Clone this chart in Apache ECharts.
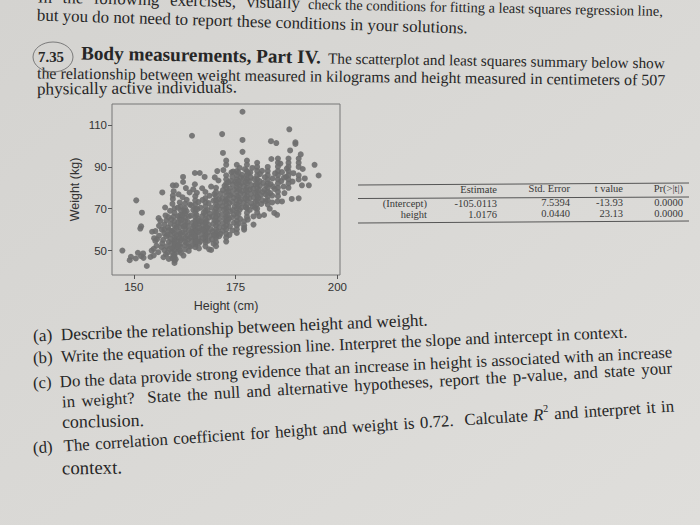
<!DOCTYPE html>
<html><head><meta charset="utf-8">
<script src="https://cdn.jsdelivr.net/npm/echarts@6/dist/echarts.min.js"></script>
<style>html,body{margin:0;padding:0;background:#d9d8d5}#c{width:700px;height:525px}</style>
</head><body><div id="c"></div>
<script>
// Height (cm), Weight (kg) pairs read from the scatterplot
const measurements = [
[147.2,50.0],[149.0,45.4],[149.3,47.0],[150.5,46.2],[151.0,48.9],[151.8,47.3],[152.3,48.6],[150.6,74.0],[152.0,68.1],[151.8,61.6],[151.6,60.5],[152.4,46.5],
[153.2,42.6],[154.1,46.9],[154.4,50.0],[154.9,50.8],[155.3,54.6],[155.7,55.4],[155.3,59.3],[154.9,47.7],[156.0,49.2],[155.6,52.3],[156.2,57.1],[155.0,55.9],[154.5,59.0],[156.1,65.5],[156.5,64.2],[156.2,61.8],
[156.9,60.0],[157.5,60.0],[157.0,77.8],[157.5,58.2],[157.2,55.1],[157.5,50.2],[157.9,48.1],[157.5,62.5],[157.0,53.4],[158.0,56.8],[158.1,52.0],[158.3,57.5],[158.0,64.5],[158.4,61.0],[158.3,49.0],[157.8,66.8],
[159.6,81.2],[160.4,81.2],[159.6,76.3],[159.6,74.7],[159.5,72.3],[160.0,70.1],[160.0,68.0],[159.8,66.2],[160.0,64.0],[160.0,62.1],[160.0,60.0],[160.0,58.2],[160.0,56.1],[160.0,55.0],[160.0,53.9],[160.0,52.1],[160.0,50.2],[160.0,48.1],[160.0,47.0],[160.0,45.2],[160.0,44.1],[159.5,46.3],[159.4,49.2],[159.4,51.0],[159.2,53.3],[159.1,55.6],[159.0,57.8],[159.3,59.4],[160.5,61.2],[160.5,57.3],[160.6,54.5],[160.7,51.6],[160.8,49.4],[160.9,63.5],[160.9,66.4],[160.8,70.5],[159.0,62.7],[158.9,69.0],[159.2,64.9],
[162.1,85.2],[162.1,82.8],[161.3,73.0],[161.5,71.0],[161.6,69.1],[161.4,67.0],[161.3,65.2],[161.5,63.0],[161.3,61.1],[161.2,59.0],[161.4,57.9],[161.2,56.1],[161.5,54.9],[161.3,53.0],[161.4,51.8],[161.3,50.1],[161.6,48.9],[162.6,56.0],[162.6,60.3],[162.6,64.1],[162.6,67.9],[162.6,52.5],[162.6,54.3],[162.6,58.2],[162.6,62.0],[162.6,65.8],[162.6,70.2],[162.6,72.5],[162.6,50.5],[163.0,53.6],[163.2,57.0],[163.5,59.6],[163.3,61.9],[163.4,55.4],[163.2,63.7],[163.5,66.3],[163.0,68.8],[163.6,52.0],[163.8,72.0],[163.0,74.3],[163.5,49.8],[162.2,47.6],[162.0,75.5],
[164.3,104.9],[165.0,87.1],[165.0,81.7],[165.1,76.0],[165.1,74.0],[165.1,72.1],[165.1,70.0],[165.1,68.1],[165.1,66.0],[165.1,64.1],[165.1,62.0],[165.1,60.1],[165.1,58.0],[165.1,57.0],[165.1,56.0],[165.1,55.0],[165.1,53.9],[165.1,52.9],[165.1,51.6],[164.2,54.5],[164.3,57.7],[164.5,60.9],[164.4,63.3],[164.0,66.7],[164.6,69.4],[164.2,71.6],[164.0,52.0],[164.7,59.0],[165.8,55.5],[165.8,58.9],[165.9,62.6],[165.7,65.4],[165.6,69.8],[165.9,73.2],[165.5,77.6],[166.0,53.5],[166.0,51.0],
[166.2,87.1],[167.4,85.2],[167.6,78.0],[167.6,75.1],[167.6,73.0],[167.6,71.1],[167.6,69.0],[167.6,67.1],[167.6,65.0],[167.6,63.1],[167.6,61.0],[167.6,59.1],[167.6,58.0],[167.6,57.0],[167.6,56.1],[167.6,55.0],[167.6,53.9],[167.6,52.0],[168.5,50.6],[166.5,57.6],[166.7,60.2],[166.6,63.8],[166.8,66.5],[166.4,70.5],[166.9,74.2],[166.3,54.4],[166.8,79.8],[168.3,54.7],[168.2,58.6],[168.4,62.3],[168.5,65.9],[168.1,69.3],[168.4,72.7],[168.6,76.2],[168.0,61.0],
[170.2,80.0],[170.2,78.0],[170.2,76.1],[170.2,74.0],[170.2,72.1],[170.2,70.0],[170.2,68.1],[170.2,66.0],[170.2,64.1],[170.2,62.0],[170.2,60.1],[170.2,58.0],[170.2,57.0],[170.2,56.0],[170.2,54.0],[170.2,52.1],[169.0,50.3],[169.2,55.5],[169.4,59.2],[169.5,62.8],[169.3,66.2],[169.1,70.6],[169.6,73.9],[169.8,77.0],[169.0,80.6],[170.8,83.5],[171.0,65.1],[171.0,69.8],[171.0,61.1],[171.0,56.9],[169.9,85.0],[170.5,88.0],
[171.9,96.7],[171.7,105.7],[172.7,93.0],[172.7,91.0],[172.7,86.0],[172.7,84.1],[172.7,82.0],[172.7,80.1],[172.7,78.0],[172.7,76.1],[172.7,74.0],[172.7,72.1],[172.7,70.0],[172.7,68.1],[172.7,66.0],[172.7,64.1],[172.7,62.0],[172.7,60.1],[172.7,58.0],[172.7,56.2],[172.7,54.3],[171.8,59.4],[171.9,63.0],[171.6,67.4],[171.8,71.3],[171.7,75.0],[171.9,78.9],[172.0,88.5],[173.5,57.5],[173.6,61.6],[173.4,65.3],[173.8,68.8],[173.5,72.6],[173.7,76.4],[173.6,79.7],[173.9,83.3],[174.0,87.4],
[175.3,91.0],[175.3,88.0],[175.3,86.0],[175.3,84.1],[175.3,82.0],[175.3,80.1],[175.3,78.0],[175.3,76.1],[175.3,74.0],[175.3,72.1],[175.3,70.0],[175.3,68.1],[175.3,66.0],[175.3,64.1],[175.3,62.0],[175.3,60.2],[175.3,58.4],[174.6,63.3],[174.6,67.2],[174.8,71.0],[174.5,75.2],[174.7,79.2],[174.9,83.0],[174.4,87.8],[176.0,69.5],[176.0,73.5],[176.2,77.3],[176.0,81.2],[176.3,85.0],[176.1,65.2],[176.0,89.5],
[176.7,116.4],[176.7,102.9],[176.7,97.2],[177.8,93.0],[177.8,91.0],[177.8,88.0],[177.8,86.1],[177.8,84.0],[177.8,82.1],[177.8,80.0],[177.8,78.1],[177.8,76.0],[177.8,74.1],[177.8,72.0],[177.8,70.1],[177.8,68.0],[177.8,66.1],[177.1,64.0],[177.1,62.1],[177.1,60.8],[177.1,60.0],[177.0,72.8],[177.2,76.8],[177.0,80.7],[177.1,84.6],[177.3,88.9],[178.4,75.0],[178.5,79.1],[178.3,83.3],[178.6,87.3],[178.5,69.4],
[180.3,92.0],[180.3,90.0],[180.3,88.1],[180.3,86.0],[180.3,84.1],[180.3,82.0],[180.3,80.1],[180.3,78.0],[180.3,76.1],[180.3,74.0],[180.3,72.1],[180.3,70.0],[180.3,68.1],[179.4,62.4],[179.4,66.3],[179.2,71.2],[179.5,75.4],[179.3,79.6],[179.6,84.2],[179.1,89.5],[181.0,81.0],[181.2,76.5],[181.0,86.6],[181.3,72.3],[180.8,66.5],
[182.9,90.0],[182.9,88.0],[182.9,86.1],[182.9,84.0],[182.9,82.1],[182.9,80.0],[182.9,78.1],[182.9,76.0],[182.9,74.1],[182.9,72.0],[182.0,67.0],[183.7,102.3],[182.2,85.1],[182.1,79.0],[183.5,77.5],[183.6,81.8],[183.8,93.8],[183.4,70.0],
[185.0,101.4],[185.4,94.0],[185.4,92.0],[185.4,90.1],[185.4,88.0],[185.4,86.1],[185.4,84.0],[185.4,82.1],[185.4,80.0],[185.4,78.1],[185.4,76.0],[185.3,73.5],[186.4,73.5],[184.5,68.0],[184.6,79.5],[186.2,83.2],[186.4,87.5],[186.0,91.6],[184.7,86.9],[185.2,67.1],
[188.2,108.0],[188.4,97.9],[188.0,94.0],[188.0,92.0],[188.0,90.1],[188.0,88.0],[188.0,86.1],[188.0,84.0],[188.0,82.1],[188.0,80.0],[188.8,74.7],[187.4,85.3],[187.6,89.2],[189.0,83.0],[189.2,87.0],
[189.7,101.8],[189.7,101.0],[190.5,94.0],[190.5,92.0],[190.5,90.0],[190.5,86.0],[190.5,84.0],[191.3,81.2],[190.5,75.0],[194.4,91.0],[195.4,85.9],[193.0,81.2],[191.5,89.0],[192.0,84.5],[191.0,96.0],
[158.6,54.2],[158.8,50.8],[159.7,47.6],[160.3,45.8],[160.2,53.0],[161.0,52.4],[161.8,55.7],[161.9,58.5],[162.3,61.4],[161.7,64.6],[162.0,66.8],[162.4,69.2],[163.9,56.3],[164.1,58.8],[164.8,61.9],[164.9,56.7],[165.4,54.3],[165.5,59.6],[165.3,63.2],[165.4,67.1],[166.1,60.9],[166.2,64.2],[166.9,56.0],[167.1,59.6],[167.0,62.4],[167.2,68.1],[167.9,64.2],[168.8,57.1],[168.9,60.3],[168.7,67.6],[169.6,53.3],[169.7,57.6],[169.8,64.6],[169.8,68.5],[170.6,59.1],[170.7,63.2],[170.6,67.0],[170.5,71.2],[170.9,74.6],[171.3,58.0],[171.2,72.8],[171.4,77.2],[172.2,61.2],[172.3,65.3],[172.2,69.6],[172.4,73.5],[172.3,81.0],[173.1,63.8],[173.0,67.2],[173.2,70.8],[173.1,74.8],[173.3,78.4],[173.2,82.6],[174.2,59.6],[174.1,65.8],[174.3,69.4],[174.2,73.4],[174.1,77.0],[174.3,81.6],[174.2,85.4],[175.8,63.0],[175.7,67.6],[175.8,71.7],[175.7,75.5],[175.9,79.2],[175.8,83.3],[175.7,87.2],[176.5,70.6],[176.4,74.7],[176.5,78.5],[176.4,82.4],[176.6,86.2],[177.5,70.8],[177.4,74.9],[177.6,78.9],[177.4,82.9],[178.0,64.8],[178.1,86.9],[178.9,72.6],[178.8,77.1],[178.9,81.3],[178.7,85.0],[179.8,70.4],[179.9,73.3],[179.8,77.7],[179.9,81.6],[180.6,75.2],[180.7,79.0],[180.9,83.2],[181.6,74.0],[181.7,78.0],[181.8,82.4],[181.5,88.1],[182.4,76.8],[182.5,81.0],[182.4,73.6],[184.0,76.3],[184.2,80.6],[184.1,84.5],[184.0,73.0],[186.8,80.6],[186.9,84.9],[187.0,77.5],
[156.8,51.6],[157.3,46.8],[158.6,46.0],[158.7,59.8],[158.5,66.0],[157.7,70.6],[159.8,78.4],[161.0,76.9],[163.7,77.8],[164.6,79.3],[162.8,79.9]
];
const xTicks = [150, 175, 200];
const yTicks = [50, 70, 90, 110];
const xRange = [144.65, 200.65];
const yRange = [38.3, 120.1];
const coefHeader = ['', 'Estimate', 'Std. Error', 't value', 'Pr(>|t|)'];
const coefIntercept = ['(Intercept)', '-105.0113', '7.5394', '-13.93', '0.0000'];
const coefHeight = ['height', '1.0176', '0.0440', '23.13', '0.0000'];

// page text lines: segments, left anchor a, right anchor b.
// fitted lines get a font size that spans a..b; ref lines reuse a fitted size and justify the spaces
const pageLines = [
  {ref:'top2', segs:[{t:'In the following exercises, visually'}], a:[38,-3], b:[300,3]},
  {id:'top1', segs:[{t:'check the conditions for fitting a least squares regression line,'}], a:[308,4], b:[663,11]},
  {id:'top2', segs:[{t:'but you do not need to report these conditions in your solutions.'}], a:[37,15], b:[468,28]},
  {id:'num', segs:[{t:'7.35',b:true}], a:[38,57], b:[64,57]},
  {id:'bold', segs:[{t:'Body measurements, Part IV.',b:true}], a:[81,53], b:[321,57]},
  {ref:'ex5', segs:[{t:'The scatterplot and least squares summary below show'}], a:[328,58], b:[665,63]},
  {ref:'ex5', segs:[{t:'the relationship between weight measured in kilograms and height measured in centimeters of 507'}], a:[37,73], b:[665,80]},
  {id:'ex5', segs:[{t:'physically active individuals.'}], a:[37,89], b:[237,87]},
  {id:'pa', segs:[{t:'(a)  Describe the relationship between height and weight.'}], a:[33,336], b:[428,320]},
  {id:'pb', segs:[{t:'(b)  Write the equation of the regression line. Interpret the slope and intercept in context.'}], a:[33,358], b:[628,332]},
  {ref:'pb', segs:[{t:'(c)  Do the data provide strong evidence that an increase in height is associated with an increase'}], a:[33,383], b:[672,352]},
  {ref:'pb', segs:[{t:'in weight?  State the null and alternative hypotheses, report the p-value, and state your'}], a:[62,402], b:[672,368]},
  {id:'pc3', segs:[{t:'conclusion.'}], a:[62,422], b:[144,420]},
  {ref:'pb', segs:[{t:'(d)  The correlation coefficient for height and weight is 0.72.  Calculate '},{t:'R',i:true},{t:'2',s:0.62,dy:-6,glue:true},{t:' and interpret it in'}], a:[33,448], b:[674,406]},
  {id:'pd2', segs:[{t:'context.'}], a:[62,468], b:[122,467]}
];

const SERIF = '"Liberation Serif", "DejaVu Serif", serif';
const SANS = '"Liberation Sans", Arial, sans-serif';
const TEXT_COL = '#262626';
const mctx = document.createElement('canvas').getContext('2d');
function mw(t, size, bold, ital) {
  mctx.font = (ital ? 'italic ' : '') + (bold ? 'bold ' : '') + size + 'px ' + SERIF;
  return mctx.measureText(t).width;
}
// tokenise a line into words with elastic gaps
function tokens(segs) {
  const out = [];
  let pending = 0;
  segs.forEach(function (s) {
    const parts = s.t.split(' ');
    parts.forEach(function (p, idx) {
      if (idx > 0) pending++;
      if (p === '') return;
      out.push({t: p, seg: s, gap: out.length ? (s.glue && idx === 0 ? 0 : pending) : 0});
      pending = 0;
    });
  });
  return out;
}
const BASE = 20;
function naturalWidth(toks, fs) {
  let w = 0;
  toks.forEach(function (tk) {
    w += mw(tk.t, fs * (tk.seg.s || 1), tk.seg.b, tk.seg.i) + tk.gap * mw(' ', fs, false, false);
  });
  return w;
}
const fitSizes = {};
pageLines.forEach(function (ln) {
  if (ln.ref) return;
  const target = Math.hypot(ln.b[0] - ln.a[0], ln.b[1] - ln.a[1]);
  ln.fs = BASE * target / naturalWidth(tokens(ln.segs), BASE);
  if (ln.id) fitSizes[ln.id] = ln.fs;
});
const graphics = [];
pageLines.forEach(function (ln) {
  const dx = ln.b[0] - ln.a[0], dy = ln.b[1] - ln.a[1];
  const target = Math.hypot(dx, dy);
  const toks = tokens(ln.segs);
  let fs = ln.ref ? fitSizes[ln.ref] : ln.fs;
  let nat = naturalWidth(toks, fs);
  if (nat > target) { fs = fs * target / nat; nat = target; }
  const totalGaps = toks.reduce(function (a, tk) { return a + tk.gap; }, 0);
  const extraPerGap = ln.ref && totalGaps ? (target - nat) / totalGaps : 0;
  const sp = mw(' ', fs, false, false);
  let off = 0;
  const children = [];
  toks.forEach(function (tk) {
    off += tk.gap * (sp + extraPerGap);
    const s = tk.seg;
    const f = fs * (s.s || 1);
    children.push({type: 'text', x: off, y: (s.dy || 0),
      style: {text: tk.t, fontFamily: SERIF, fontSize: f, fontWeight: s.b ? 'bold' : 'normal',
        fontStyle: s.i ? 'italic' : 'normal', fill: TEXT_COL, textVerticalAlign: 'middle', textAlign: 'left'}});
    off += mw(tk.t, f, s.b, s.i);
  });
  graphics.push({type: 'group', x: ln.a[0], y: ln.a[1], rotation: -Math.atan2(dy, dx), children: children});
});

// pencil circle around exercise number
graphics.push({type: 'ellipse', shape: {cx: 53, cy: 57, rx: 20, ry: 15},
  style: {fill: 'none', stroke: '#7a7a7a', lineWidth: 1}});

// regression summary table
const tableCols = [427, 497, 570, 623, 683];
const tableRows = [[coefHeader, 190], [coefIntercept, 204], [coefHeight, 215]];
tableRows.forEach(function (r) {
  r[0].forEach(function (cell, j) {
    if (!cell) return;
    graphics.push({type: 'text', x: tableCols[j], y: r[1] - (tableCols[j] - 360) * 0.006,
      style: {text: cell, fontFamily: SERIF, fontSize: 10.5, fill: '#383838', textAlign: 'right', textVerticalAlign: 'middle'}});
  });
});
[[185, 183], [198.5, 197], [223, 221]].forEach(function (ly) {
  graphics.push({type: 'line', shape: {x1: 358, y1: ly[0], x2: 689, y2: ly[1]},
    style: {stroke: '#555', lineWidth: 1}});
});

const chart = echarts.init(document.getElementById('c'), null, {renderer: 'svg'});
chart.setOption({
  backgroundColor: {type: 'linear', x: 0, y: 0, x2: 1, y2: 1,
    colorStops: [{offset: 0, color: '#d4d3d0'}, {offset: 1, color: '#dfdedb'}]},
  animation: false,
  grid: {left: 112, top: 104, width: 228, height: 171, show: true, borderColor: '#777', borderWidth: 1, backgroundColor: 'transparent'},
  xAxis: {type: 'value', min: xRange[0], max: xRange[1],
    name: 'Height (cm)', nameLocation: 'middle', nameGap: 24,
    nameTextStyle: {fontFamily: SANS, fontSize: 12.5, color: '#333'},
    axisLine: {show: false}, splitLine: {show: false},
    axisTick: {show: true, length: 4, customValues: xTicks, lineStyle: {color: '#555'}},
    axisLabel: {customValues: xTicks, fontFamily: SANS, fontSize: 11.5, color: '#333', margin: 6}},
  yAxis: {type: 'value', min: yRange[0], max: yRange[1],
    name: 'Weight (kg)', nameLocation: 'middle', nameGap: 31, nameRotate: 90,
    nameTextStyle: {fontFamily: SANS, fontSize: 12.5, color: '#333'},
    axisLine: {show: false}, splitLine: {show: false},
    axisTick: {show: true, length: 4, customValues: yTicks, lineStyle: {color: '#555'}},
    axisLabel: {customValues: yTicks, fontFamily: SANS, fontSize: 11.5, color: '#333', margin: 5}},
  series: [{type: 'scatter', data: measurements, symbolSize: 6,
    itemStyle: {color: '#6e6e6e', opacity: 0.9}}],
  graphic: graphics
});
</script></body></html>
